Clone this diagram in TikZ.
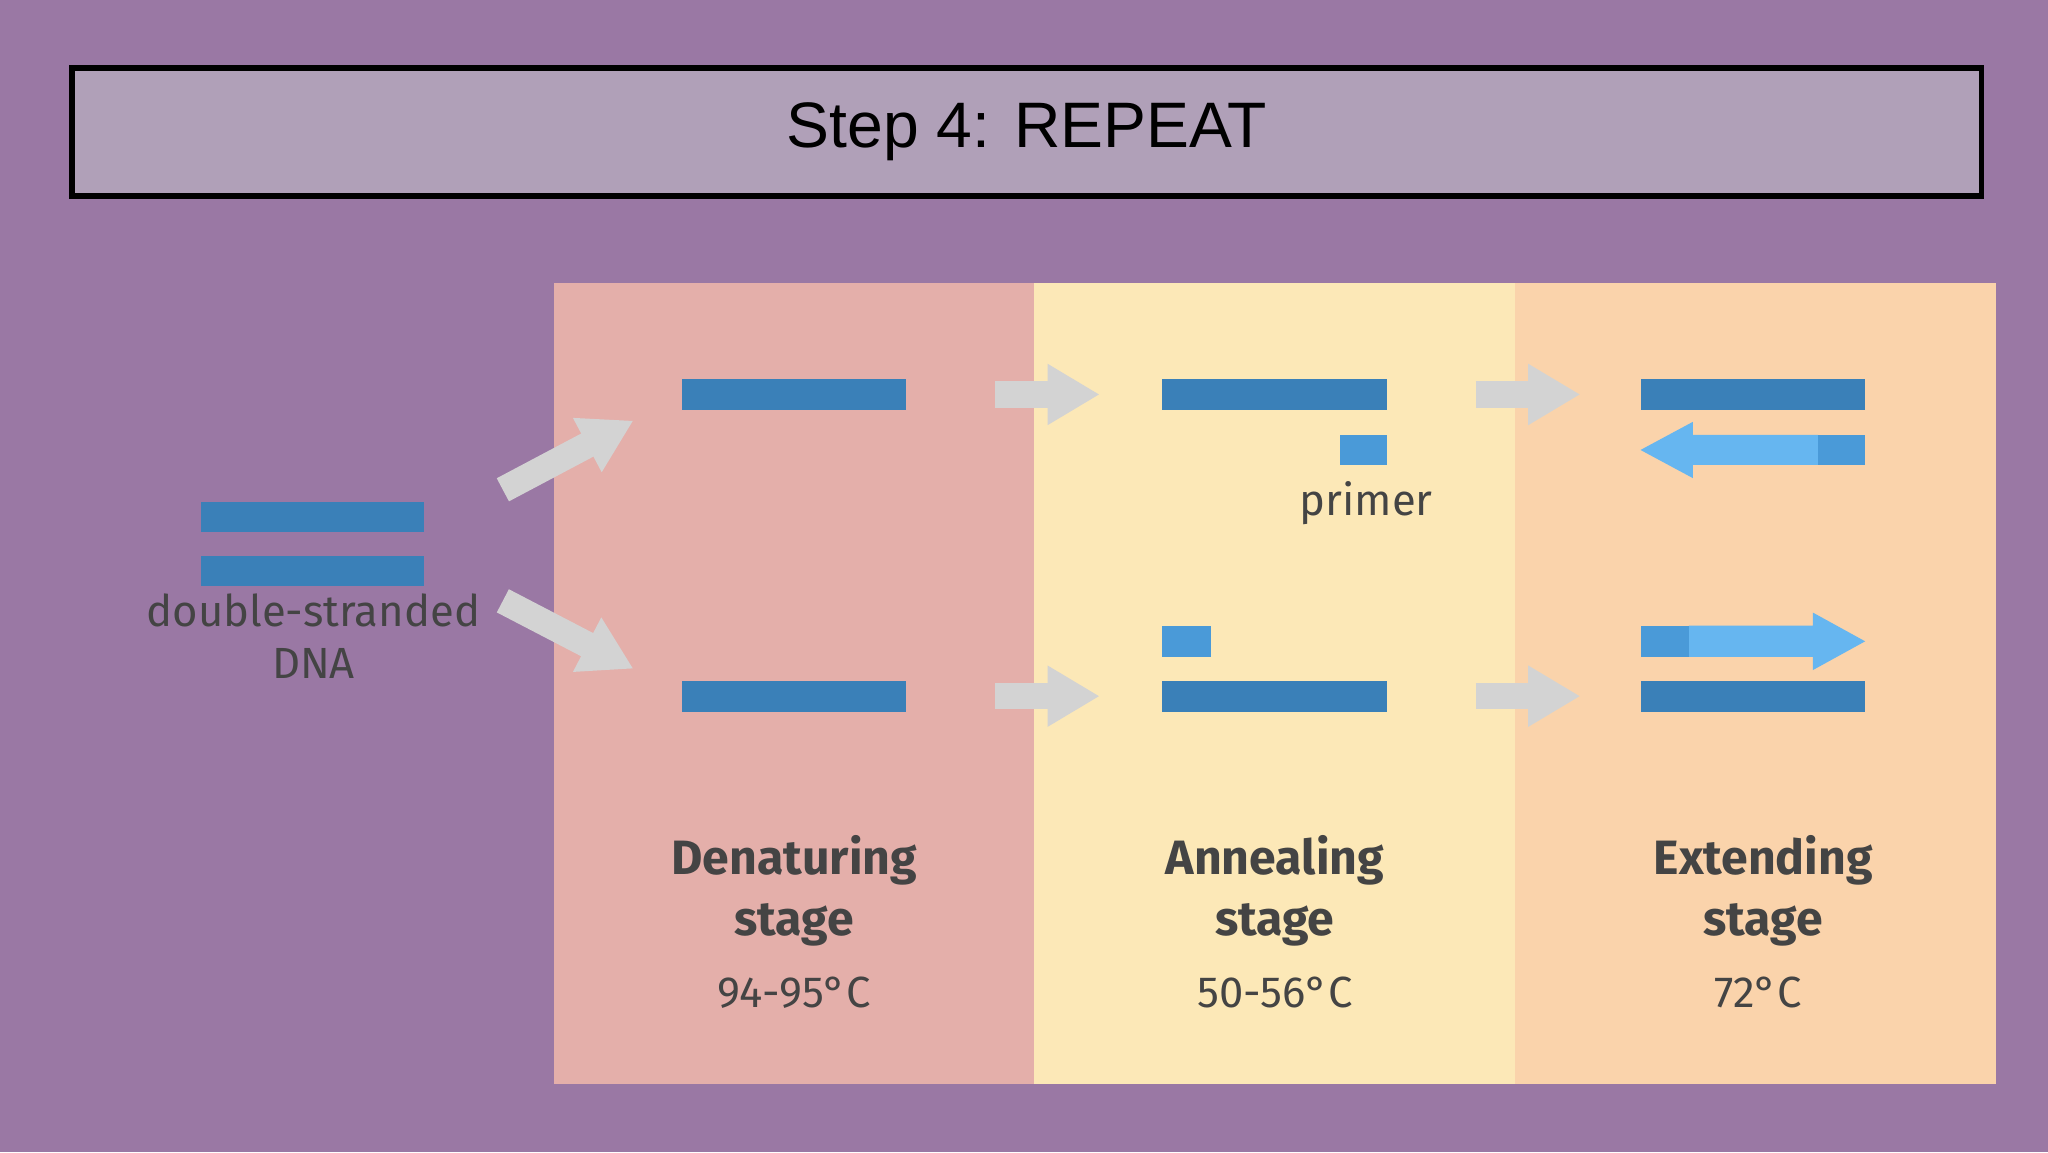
\documentclass[tikz,border=0pt]{standalone}
\usepackage{fontspec}
\setmainfont{Fira Sans}
\newfontfamily\titlefont{Liberation Sans}
\usetikzlibrary{arrows.meta}
\definecolor{bgp}{HTML}{9A78A4}
\definecolor{titlef}{HTML}{B0A0B8}
\definecolor{pinkp}{HTML}{E4AFAA}
\definecolor{yelp}{HTML}{FCE8B7}
\definecolor{peachp}{HTML}{FAD3AB}
\definecolor{dna}{HTML}{3A80B8}
\definecolor{prim}{HTML}{4A9AD8}
\definecolor{newdna}{HTML}{66B6F0}
\definecolor{garrow}{HTML}{D3D3D3}
\definecolor{txt}{HTML}{444444}
\tikzset{
 bar/.style={fill=dna,draw=none},
 pbar/.style={fill=prim,draw=none},
 gar/.style={draw=garrow,line width=0.2cm,-{Triangle[length=0.4cm,width=0.44cm]},shorten >=0pt},
 lbl/.style={text=txt,font=\fontsize{9.5pt}{11.5pt}\selectfont,align=center},
 stg/.style={text=txt,font=\fontsize{10.5pt}{13.5pt}\selectfont\bfseries,align=center},
 tmp/.style={text=txt,font=\fontsize{9.5pt}{11pt}\selectfont},
}
\begin{document}
\begin{tikzpicture}[x=1cm,y=1cm]
\def\Y#1{8.82-#1}
\useasboundingbox (0,0) rectangle (15.68,8.82);
\fill[bgp] (0,0) rectangle (15.68,8.82);
\node[draw=black,line width=1.2pt,fill=titlef,minimum width=14.62cm,minimum height=0.98cm,anchor=north west,font=\titlefont\fontsize{14pt}{16pt}\selectfont] (title) at (0.53,8.32) {Step 4: REPEAT};
\fill[pinkp] (4.24,0.52) rectangle (7.92,6.65);
\fill[yelp] (7.92,0.52) rectangle (11.60,6.65);
\fill[peachp] (11.60,0.52) rectangle (15.28,6.65);
% left dsDNA
\fill[bar] (1.54,4.75) rectangle (3.25,4.98);
\fill[bar] (1.54,4.33) rectangle (3.25,4.56);
\node[lbl] (ds) at (2.40,3.95) {double-stranded\\DNA};
% denature
\fill[bar] (5.22,5.68) rectangle (6.94,5.92);
\fill[bar] (5.22,3.37) rectangle (6.94,3.61);
% anneal
\fill[bar] (8.90,5.68) rectangle (10.62,5.92);
\fill[bar] (8.90,3.37) rectangle (10.62,3.61);
\fill[pbar] (10.26,5.26) rectangle (10.62,5.49);
\fill[pbar] (8.90,3.79) rectangle (9.27,4.03);
\node[tmp] (primer) at (10.46,4.97) {primer};
% extend
\fill[bar] (12.56,5.68) rectangle (14.28,5.92);
\fill[bar] (12.56,3.37) rectangle (14.28,3.61);
\fill[newdna] (12.56,5.375) -- (12.96,5.59) -- (12.96,5.49) -- (13.92,5.49) -- (13.92,5.26) -- (12.96,5.26) -- (12.96,5.16) -- cycle;
\fill[pbar] (13.92,5.26) rectangle (14.28,5.49);
\fill[newdna] (14.28,3.91) -- (13.88,4.13) -- (13.88,4.03) -- (12.93,4.03) -- (12.93,3.79) -- (13.88,3.79) -- (13.88,3.69) -- cycle;
\fill[pbar] (12.56,3.79) rectangle (12.93,4.03);
% grey arrows
\coordinate (d1s) at (3.85,5.07); \coordinate (d1e) at (4.85,5.60);
\coordinate (d2s) at (3.85,4.22); \coordinate (d2e) at (4.85,3.70);
\draw[gar] (d1s) -- (d1e);
\draw[gar] (d2s) -- (d2e);
\coordinate (h1s) at (7.62,5.80); \coordinate (h1e) at (8.42,5.80);
\coordinate (h2s) at (7.62,3.49); \coordinate (h2e) at (8.42,3.49);
\coordinate (h3s) at (11.30,5.80); \coordinate (h3e) at (12.10,5.80);
\coordinate (h4s) at (11.30,3.49); \coordinate (h4e) at (12.10,3.49);
\draw[gar] (h1s) -- (h1e);
\draw[gar] (h2s) -- (h2e);
\draw[gar] (h3s) -- (h3e);
\draw[gar] (h4s) -- (h4e);
% stage labels
\node[stg] (s1) at (6.08,2.00) {Denaturing\\stage};
\node[stg] (s2) at (9.76,2.00) {Annealing\\stage};
\node[stg] (s3) at (13.50,2.00) {Extending\\stage};
\node[tmp] (t1) at (6.08,1.22) {94-95°C};
\node[tmp] (t2) at (9.76,1.22) {50-56°C};
\node[tmp] (t3) at (13.46,1.22) {72°C};
\end{tikzpicture}
\end{document}
